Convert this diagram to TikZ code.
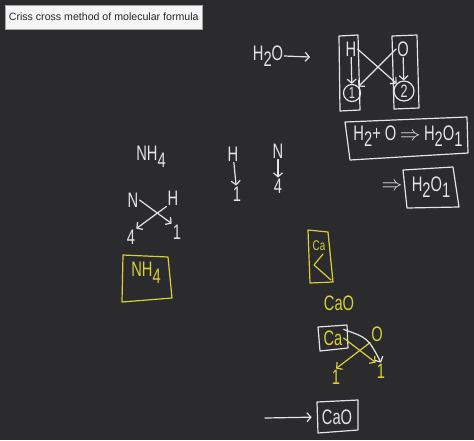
\documentclass[tikz,border=0pt]{standalone}
\usepackage{fontspec}
\setmainfont{Liberation Sans}
\newfontfamily\handfont[FakeStretch=0.7]{Liberation Sans}
\usetikzlibrary{arrows.meta}
\definecolor{bg}{HTML}{2B2B2E}
\definecolor{chalk}{HTML}{E4E4E4}
\definecolor{ylw}{HTML}{D6D03A}
\newcommand\lowr[1]{\raisebox{-0.6ex}{#1}}
\begin{document}
\begin{tikzpicture}[x=1pt,y=-1pt,
  hand/.style={text=chalk,font=\handfont\fontsize{21}{21}\selectfont,inner sep=1pt},
  yhand/.style={hand,text=ylw},
  stroke/.style={draw=chalk,line width=1.2pt,line cap=round,line join=round},
  ystroke/.style={stroke,draw=ylw},
  arr/.style={stroke,-{Straight Barb[length=4pt,width=9pt]}},
  yarr/.style={ystroke,-{Straight Barb[length=4pt,width=9pt]}}]
\fill[bg] (0,0) rectangle (474,440);
\useasboundingbox (0,0) rectangle (474,440);
% title
\node[draw=gray!70,fill=white!96!black,text=black!85,font=\fontsize{10.6}{13}\selectfont,
  inner sep=0pt,minimum width=197pt,minimum height=24pt,anchor=north west] (title) at (5,5)
  {Criss cross method of molecular formula};
% H2O ->
\node[hand] (h2o) at (268,56) {H\lowr{2}O};
\coordinate (h2oend) at (310,57);
\draw[arr] (h2o.east) -- (h2oend);
% H and O columns
\draw[stroke] (339,36) -- (358,35) -- (360,110) -- (340,111) -- cycle;
\draw[stroke] (392,36) -- (417,35) -- (419,108) -- (394,109) -- cycle;
\node[hand] (hH) at (351,49) {H};
\node[hand] (oO) at (403,49) {O};
\node[stroke,circle,minimum size=17pt,inner sep=0pt,text=chalk,font=\handfont\fontsize{16}{16}\selectfont] (c1) at (352,93) {1};
\node[stroke,circle,minimum size=20pt,inner sep=0pt,text=chalk,font=\handfont\fontsize{18}{18}\selectfont] (c2) at (404,91) {2};
\draw[arr] (hH) -- (c1);
\draw[arr] (oO) -- (c2);
\draw[arr] (hH.east) -- (c2.north west);
\draw[arr] (oO.west) -- (c1.north east);
% H2 + O => H2O1
\draw[stroke] (345,122) -- (467,117) -- (468,153) -- (350,160) -- cycle;
\node[hand] (eq1) at (408,136) {H\lowr{2}+ O\,$\Rightarrow$\,H\lowr{2}O\lowr{1}};
% => H2O1
\node[hand] (imp) at (392,187) {$\Rightarrow$};
\draw[stroke] (403,170) -- (453,167) -- (459,207) -- (407,208) -- cycle;
\node[hand] (eq2) at (431,187) {H\lowr{2}O\lowr{1}};
% NH4
\node[hand] (nh4) at (151,157) {NH\lowr{4}};
\node[hand] (hv) at (233,154) {H};
\node[hand] (h1) at (237,194) {1};
\draw[arr] (hv) -- (h1);
\node[hand] (nv) at (278,151) {N};
\node[hand] (n4) at (278,186) {4};
\draw[arr] (nv) -- (n4);
% cross
\node[hand] (nx) at (133,200) {N};
\node[hand] (hx) at (173,198) {H};
\node[hand] (x4) at (131,237) {4};
\node[hand] (x1) at (177,232) {1};
\draw[arr] (nx.east) -- (x1.north west);
\draw[arr] (hx.south west) -- (x4.north east);
% yellow NH4 box
\draw[ystroke] (123,255) -- (168,257) -- (172,298) -- (122,302) -- cycle;
\node[yhand] (ynh4) at (146,273) {NH\lowr{4}};
% small yellow box
\draw[ystroke] (308,230) -- (328,232) -- (333,282) -- (310,283) -- cycle;
\node[yhand,font=\handfont\fontsize{14}{14}\selectfont] (sca) at (319,246) {Ca};
\draw[ystroke] (323,254) -- (314,265) -- (331,280);
% CaO yellow
\node[yhand] (ycao) at (339,303) {CaO};
% Ca O cross
\draw[stroke] (318,327) -- (347,325) -- (348,348) -- (320,351) -- cycle;
\node[yhand] (ca) at (333,338) {Ca};
\node[yhand] (o2) at (377,334) {O};
\node[yhand] (l1) at (336,377) {1};
\node[yhand] (r1) at (381,371) {1};
\draw[yarr] (o2.south west) -- (l1.north);
\draw[yarr] (ca.east) -- (r1.north west);
\draw[arr] (ca.north east) .. controls (368,338) .. (r1.north);
% final
\coordinate (fstart) at (265,418);
\draw[stroke] (317,402) -- (358,400) -- (358,430) -- (318,433) -- cycle;
\node[hand] (cao2) at (337,417) {CaO};
\draw[arr,shorten >=9pt] (fstart) -- (cao2.west);
\end{tikzpicture}
\end{document}
